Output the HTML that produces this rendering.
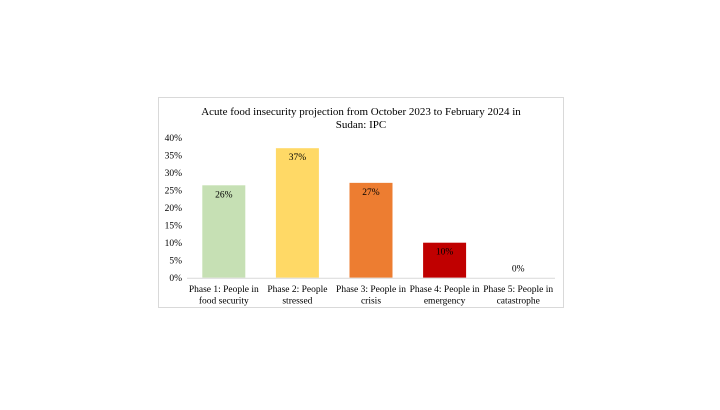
<!DOCTYPE html>
<html><head><meta charset="utf-8"><style>
body{margin:0;background:#fff;width:720px;height:405px;overflow:hidden;font-family:"Liberation Serif",serif}
</style></head><body>
<svg width="720" height="405">
<rect x="158.5" y="97.5" width="405" height="210" fill="#fff" stroke="#d9d9d9"/>
<text x="361" y="115" text-anchor="middle" font-size="11">Acute food insecurity projection from October 2023 to February 2024 in</text>
<text x="361" y="128" text-anchor="middle" font-size="11">Sudan: IPC</text>
<g id="g"></g>
</svg>
<script>
const categories=[["Phase 1: People in","food security"],["Phase 2: People","stressed"],["Phase 3: People in","crisis"],["Phase 4: People in","emergency"],["Phase 5: People in","catastrophe"]];
const values=[26.4,37.0,27.1,10.0,0];
const valueLabels=["26%","37%","27%","10%","0%"];
const colors=["#c6e0b4","#ffd966","#ed7d31","#c00000","#7030a0"];
const ticks=[0,5,10,15,20,25,30,35,40];
const NS="http://www.w3.org/2000/svg",g=document.getElementById('g');
const x0=187,x1=555,y0=277.7,yTop=137.7,maxV=40;
const y=v=>y0-(v/maxV)*(y0-yTop);
const bw=(x1-x0)/categories.length;
function el(t,a,txt){const e=document.createElementNS(NS,t);for(const k in a)e.setAttribute(k,a[k]);if(txt!=null)e.textContent=txt;g.appendChild(e);return e;}
ticks.forEach(t=>{
const e=el('text',{x:182,y:y(t)+3.5,'text-anchor':'end','font-size':'9.5'},t+'%');


});
values.forEach((v,i)=>{
const cx=x0+bw*(i+0.5);
const r=el('rect',{x:cx-21.5,y:y(v),width:43,height:y0-y(v),fill:colors[i]});


const ly=v>3?y(v)+12:y(v)-6;
const t=el('text',{x:cx,y:ly,'text-anchor':'middle','font-size':'9.5'},valueLabels[i]);


categories[i].forEach((line,j)=>{
const c=el('text',{x:cx,y:292+j*11.5,'text-anchor':'middle','font-size':'9.5'},line);


});
});
const ax=el('line',{x1:x0,x2:x1,y1:y0+0.5,y2:y0+0.5,stroke:'#d9d9d9'});


</script>
</body></html>
